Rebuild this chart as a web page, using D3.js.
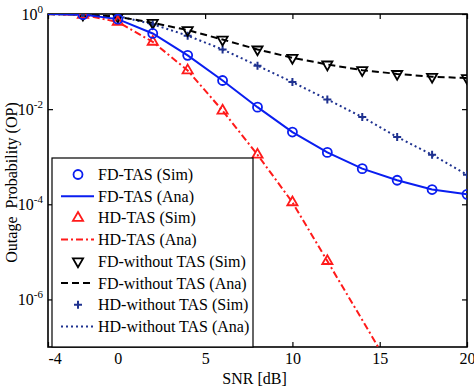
<!doctype html>
<html lang="en">
<head>
<meta charset="utf-8">
<style>
  body { margin: 0; background: #fff; }
  svg { display: block; }
</style>
</head>
<body>
<svg width="474" height="389" font-family="'Liberation Serif', 'Times New Roman', serif"></svg>
<script src="https://d3js.org/d3.v7.min.js"></script>
<script>

// SNR grids (dB)
var snrAna = [-4, -2, 0, 2, 4, 6, 8, 10, 12, 14, 16, 18, 20];
var snrSim = [-2, 0, 2, 4, 6, 8, 10, 12, 14, 16, 18, 20];

// outage probability
var fdTasSim = [0.97, 0.78, 0.39, 0.135, 0.040, 0.011, 0.0033, 0.00123, 0.00056, 0.00032, 0.000204, 0.000162];
var fdTasAna = [0.995, 0.97, 0.78, 0.39, 0.135, 0.040, 0.011, 0.0033, 0.00123, 0.00056, 0.00032, 0.000204, 0.000162];
var hdTasSim = [0.96, 0.68, 0.26, 0.065, 0.0093, 0.0011, 0.00011, 0.0000064];
var hdTasAna = [0.995, 0.96, 0.68, 0.26, 0.065, 0.0093, 0.0011, 0.00011, 0.0000064, 3.7e-7, 2.1e-8];
var fdNoSim = [0.97, 0.88, 0.65, 0.46, 0.29, 0.18, 0.12, 0.087, 0.066, 0.055, 0.048, 0.045];
var fdNoAna = [0.995, 0.97, 0.88, 0.65, 0.46, 0.29, 0.18, 0.12, 0.087, 0.066, 0.055, 0.048, 0.045];
var hdNoSim = [0.97, 0.9, 0.61, 0.35, 0.18, 0.082, 0.037, 0.016, 0.0068, 0.0026, 0.0011, 0.00042];
var hdNoAna = [0.995, 0.97, 0.9, 0.61, 0.35, 0.18, 0.082, 0.037, 0.016, 0.0068, 0.0026, 0.0011, 0.00042];

var xTicks = [-4, 0, 5, 10, 15, 20];
var yTicks = [1, 1e-2, 1e-4, 1e-6];
var yTickExp = ["0", "-2", "-4", "-6"];

var legendLabels = ["FD-TAS (Sim)", "FD-TAS (Ana)", "HD-TAS (Sim)", "HD-TAS (Ana)",
  "FD-without TAS (Sim)", "FD-without TAS (Ana)", "HD-without TAS (Sim)", "HD-without TAS (Ana)"];

var svg = d3.select("svg"),
    pLeft = 48, pRight = 467, pTop = 14, pBottom = 347;

var x = d3.scaleLinear().domain([-4, 20]).range([pLeft, pRight]);
var y = d3.scaleLog().domain([1e-7, 1]).range([pBottom, pTop]);

var blue = "#0a1ef0", red = "#ff1a1a", navy = "#1f3290";

svg.append("defs").append("clipPath").attr("id", "plot")
  .append("rect").attr("x", pLeft).attr("y", pTop)
  .attr("width", pRight - pLeft).attr("height", pBottom - pTop);

// axes (ticks inside, box round the plot)
var gx = svg.append("g").attr("transform", "translate(0," + pBottom + ")")
  .call(d3.axisBottom(x).tickValues(xTicks).tickSize(-5).tickPadding(6).tickSizeOuter(0));
gx.selectAll("text").filter(function(d) { return d === -4; }).attr("text-anchor", "start").text("-4");
svg.append("g").attr("transform", "translate(0," + pTop + ")")
  .call(d3.axisTop(x).tickValues(xTicks).tickSize(-5).tickFormat("").tickSizeOuter(0));
svg.append("g").attr("transform", "translate(" + pLeft + ",0)")
  .call(d3.axisLeft(y).tickValues(yTicks).tickSize(-5).tickFormat("").tickSizeOuter(0));
svg.append("g").attr("transform", "translate(" + pRight + ",0)")
  .call(d3.axisRight(y).tickValues(yTicks).tickSize(-5).tickFormat("").tickSizeOuter(0));
svg.selectAll(".domain").remove();
svg.selectAll("g").attr("font-family", null).attr("font-size", null);
svg.selectAll(".tick line").attr("stroke", "#000").attr("stroke-width", 1.2);
svg.selectAll(".tick text").attr("font-size", 16).attr("fill", "#000");

yTicks.forEach(function(v, i) {
  var t = svg.append("text").attr("x", pLeft - 5).attr("y", y(v) + 6)
    .attr("text-anchor", "end").attr("font-size", 16);
  t.append("tspan").text("10");
  t.append("tspan").attr("dy", -7).attr("font-size", 11).text(yTickExp[i]);
});

svg.append("rect").attr("x", pLeft).attr("y", pTop)
  .attr("width", pRight - pLeft).attr("height", pBottom - pTop)
  .attr("fill", "none").attr("stroke", "#000").attr("stroke-width", 1.6);

// curves
var plot = svg.append("g").attr("clip-path", "url(#plot)");
var line = d3.line().x(function(d) { return x(d[0]); }).y(function(d) { return y(d[1]); });

function curve(xs, ys, color, dash) {
  plot.append("path").datum(d3.zip(xs, ys))
    .attr("d", line).attr("fill", "none").attr("stroke", color)
    .attr("stroke-width", 2).attr("stroke-dasharray", dash);
}
curve(snrAna, hdNoAna, navy, "2,3");
curve(snrAna, fdNoAna, "#000", "7,4");
curve(snrAna, hdTasAna, red, "7,3,2,3");
curve(snrAna, fdTasAna, blue, null);

var tri = d3.symbol().type(d3.symbolTriangle).size(45);

function marker(g, kind, cx, cy) {
  if (kind === "o") {
    g.append("circle").attr("cx", cx).attr("cy", cy).attr("r", 4.5)
      .attr("fill", "none").attr("stroke", blue).attr("stroke-width", 1.8);
  } else if (kind === "^") {
    g.append("path").attr("d", tri()).attr("transform", "translate(" + cx + "," + cy + ")")
      .attr("fill", "none").attr("stroke", red).attr("stroke-width", 1.8);
  } else if (kind === "v") {
    g.append("path").attr("d", tri()).attr("transform", "translate(" + cx + "," + cy + ") rotate(180)")
      .attr("fill", "none").attr("stroke", "#000").attr("stroke-width", 1.8);
  } else {
    g.append("path").attr("d", "M-4,0H4M0,-4V4").attr("transform", "translate(" + cx + "," + cy + ")")
      .attr("fill", "none").attr("stroke", navy).attr("stroke-width", 2);
  }
}

function points(ys, kind) {
  ys.forEach(function(v, i) { marker(plot, kind, x(snrSim[i]), y(v)); });
}
points(hdNoSim, "+");
points(fdNoSim, "v");
points(hdTasSim, "^");
points(fdTasSim, "o");

// legend
var lg = svg.append("g");
lg.append("rect").attr("x", 52).attr("y", 158).attr("width", 201).attr("height", pBottom - 158)
  .attr("fill", "#fff").attr("stroke", "#000").attr("stroke-width", 1.2);

var legendStyle = [
  { m: "o" }, { c: blue, d: null },
  { m: "^" }, { c: red, d: "7,3,2,3" },
  { m: "v" }, { c: "#000", d: "7,4" },
  { m: "+" }, { c: navy, d: "2,3" }
];
legendStyle.forEach(function(s, i) {
  var ly = 174.5 + i * 21.7;
  if (s.m) {
    marker(lg, s.m, 78, ly);
  } else {
    lg.append("line").attr("x1", 61).attr("x2", 94).attr("y1", ly).attr("y2", ly)
      .attr("stroke", s.c).attr("stroke-width", 2).attr("stroke-dasharray", s.d);
  }
  lg.append("text").attr("x", 98).attr("y", ly + 5.5).attr("font-size", 16).text(legendLabels[i]);
});

// axis titles
svg.append("text").attr("x", (pLeft + pRight) / 2 - 3).attr("y", 384)
  .attr("text-anchor", "middle").attr("font-size", 16).text("SNR [dB]");
svg.append("text").attr("transform", "translate(17," + ((pTop + pBottom) / 2 + 2) + ") rotate(-90)")
  .attr("text-anchor", "middle").attr("font-size", 16).attr("xml:space", "preserve")
  .text("Outage  Probability (OP)");

</script>
</body>
</html>
